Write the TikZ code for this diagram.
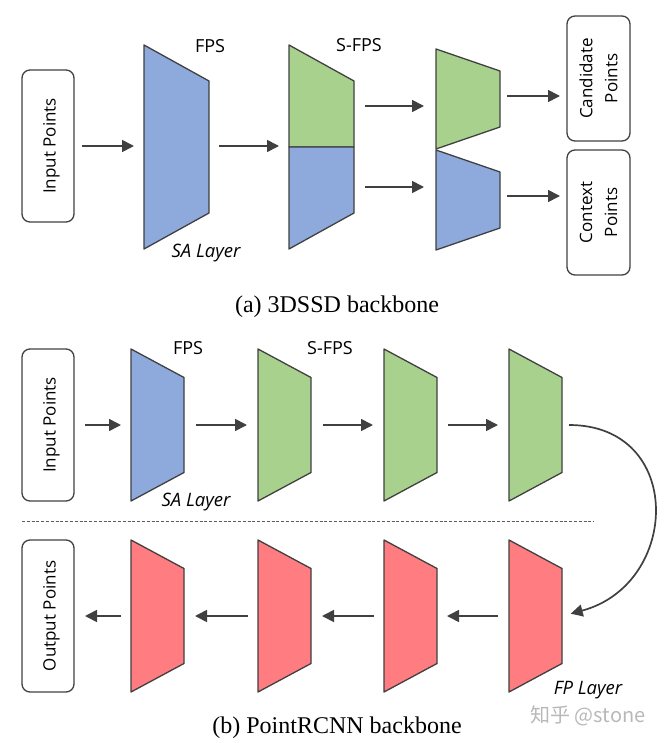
\documentclass[tikz,border=0pt]{standalone}
\usepackage{fontspec}
\setmainfont{Liberation Serif}
\newfontfamily\labelfont{Open Sans}
\newfontfamily\cjkfont{Noto Sans CJK SC}
\usepackage{xcolor}
\usetikzlibrary{arrows.meta, positioning}
\definecolor{layerblue}{RGB}{142, 169, 219}
\definecolor{layergreen}{RGB}{169, 209, 142}
\definecolor{layerred}{RGB}{255, 124, 128}
\definecolor{edgegray}{RGB}{64, 64, 64}
% name, node options, drop of the right side, fill
\newcommand{\layer}[4]{
    \node[#2] (#1) {};
    \draw[layeredge, fill=#4] (#1.north west) -- ([yshift=-#3pt]#1.north east) -- ([yshift=#3pt]#1.south east) -- (#1.south west) -- cycle;
}

\begin{document}
\begin{tikzpicture}[
    x=1pt, y=-1pt,
    node distance=74pt,
    layeredge/.style={draw=edgegray, line width=1.3pt, line join=round},
    pointbox/.style={rectangle, draw=edgegray, line width=1.3pt, rounded corners=8pt, rotate=90, align=center, inner sep=0pt, outer sep=0pt, font=\labelfont\fontsize{17}{25}\selectfont},
    singlebox/.style={pointbox, minimum width=152pt, minimum height=52pt, text height=19pt, text depth=4pt},
    biglayer/.style={rectangle, inner sep=0pt, outer sep=0pt, minimum width=65pt, minimum height=204pt},
    midlayer/.style={rectangle, inner sep=0pt, outer sep=0pt, minimum width=64pt, minimum height=100pt},
    smalllayer/.style={rectangle, inner sep=0pt, outer sep=0pt, minimum width=53pt, minimum height=152pt},
    tag/.style={font=\labelfont\fontsize{18}{22}\selectfont},
    layertag/.style={font=\labelfont\itshape\fontsize{18.5}{22}\selectfont},
    caption/.style={font=\fontsize{24}{28}\selectfont},
    arrow/.style={-{Triangle[length=12pt, width=12pt]}, line width=1.7pt, draw=edgegray}
]
    \useasboundingbox (0,0) rectangle (664,743);

    % 3DSSD
    \node[singlebox] (inputa) at (48,146) {Input Points};
    \layer{fpsa}{biglayer, at={(176.5,147)}}{36}{layerblue}
    \node[biglayer, right=80pt of fpsa] (sfpsa) {};
    \draw[layeredge, fill=layergreen] (sfpsa.north west) -- ([yshift=-36pt]sfpsa.north east) -- (sfpsa.east) -- (sfpsa.west) -- cycle;
    \draw[layeredge, fill=layerblue] (sfpsa.west) -- (sfpsa.east) -- ([yshift=36pt]sfpsa.south east) -- (sfpsa.south west) -- cycle;
    \layer{upper}{midlayer, at={(468,99)}}{22}{layergreen}
    \layer{lower}{midlayer, at={(468,200)}}{22}{layerblue}
    \node[pointbox, minimum width=125pt, minimum height=63pt] (candidate) at (598.5,78.5) {Candidate\\Points};
    \node[pointbox, minimum width=125pt, minimum height=63pt] (context) at (598.5,212.5) {Context\\Points};

    \node[tag] (fpstaga) at (210,46) {FPS};
    \node[tag] (sfpstaga) at (359,45) {S-FPS};
    \node[layertag] (satag) at (206,253) {SA Layer};
    \node[caption] (captiona) at (337,307) {(a) 3DSSD backbone};

    \draw[arrow, shorten <=8pt, shorten >=10pt] (inputa.south) -- ([yshift=1pt]fpsa.west);
    \draw[arrow, shorten <=10pt, shorten >=10pt] ([yshift=1pt]fpsa.east) -- ([yshift=1pt]sfpsa.west);
    \draw[arrow, shorten <=11pt, shorten >=12pt] ([yshift=41pt]sfpsa.east) -- ([yshift=-7pt]upper.west);
    \draw[arrow, shorten <=11pt, shorten >=12pt] ([yshift=-40pt]sfpsa.east) -- ([yshift=13pt]lower.west);
    \draw[arrow, shorten <=7pt, shorten >=7pt] ([yshift=3pt]upper.east) -- ([yshift=-17.5pt]candidate.north);
    \draw[arrow, shorten <=7pt, shorten >=7pt] ([yshift=4pt]lower.east) -- ([yshift=16.5pt]context.north);

    % PointRCNN
    \node[singlebox] (inputb) at (48,425) {Input Points};
    \layer{fpsb}{smalllayer, at={(157.5,425)}}{28.5}{layerblue}
    \layer{sfpsb}{smalllayer, right=of fpsb}{28.5}{layergreen}
    \layer{thirdb}{smalllayer, right=73pt of sfpsb}{28.5}{layergreen}
    \layer{fourthb}{smalllayer, right=72pt of thirdb}{28.5}{layergreen}

    \node[singlebox] (output) at (48,616) {Output Points};
    \layer{reda}{smalllayer, at={(157.5,616)}}{28.5}{layerred}
    \layer{redb}{smalllayer, right=of reda}{28.5}{layerred}
    \layer{redc}{smalllayer, right=73pt of redb}{28.5}{layerred}
    \layer{redd}{smalllayer, right=72pt of redc}{28.5}{layerred}

    \node[tag] (fpstagb) at (188,348) {FPS};
    \node[tag] (sfpstagb) at (330,348) {S-FPS};
    \node[layertag] (satagb) at (196,502) {SA Layer};
    \node[layertag] (fptag) at (588,690) {FP Layer};
    \node[caption] (captionb) at (337,728) {(b) PointRCNN backbone};
    \node[font=\cjkfont\fontsize{20}{24}\selectfont, text=black!28] (mark) at (588,716) {知乎 @stone};

    \coordinate (dashstart) at (22,521);
    \coordinate (dashend) at (594,521);
    \draw[edgegray!85, line width=1pt, dash pattern=on 3pt off 1.8pt] (dashstart) -- (dashend);

    \draw[arrow, shorten <=11pt, shorten >=10pt] (inputb.south) -- (fpsb.west);
    \draw[arrow, shorten <=12pt, shorten >=11pt] (fpsb.east) -- (sfpsb.west);
    \draw[arrow, shorten <=12pt, shorten >=11pt] (sfpsb.east) -- (thirdb.west);
    \draw[arrow, shorten <=11pt, shorten >=11pt] (thirdb.east) -- (fourthb.west);
    \draw[arrow, shorten <=7pt, shorten >=9pt] (fourthb.east) to[out=0, in=15, looseness=1.65] (redd.east);
    \draw[arrow, shorten <=11pt, shorten >=10pt] (redd.west) -- (redc.east);
    \draw[arrow, shorten <=10pt, shorten >=11pt] (redc.west) -- (redb.east);
    \draw[arrow, shorten <=10pt, shorten >=11pt] (redb.west) -- (reda.east);
    \draw[arrow, shorten <=10pt, shorten >=11pt] (reda.west) -- (output.south);
\end{tikzpicture}
\end{document}
